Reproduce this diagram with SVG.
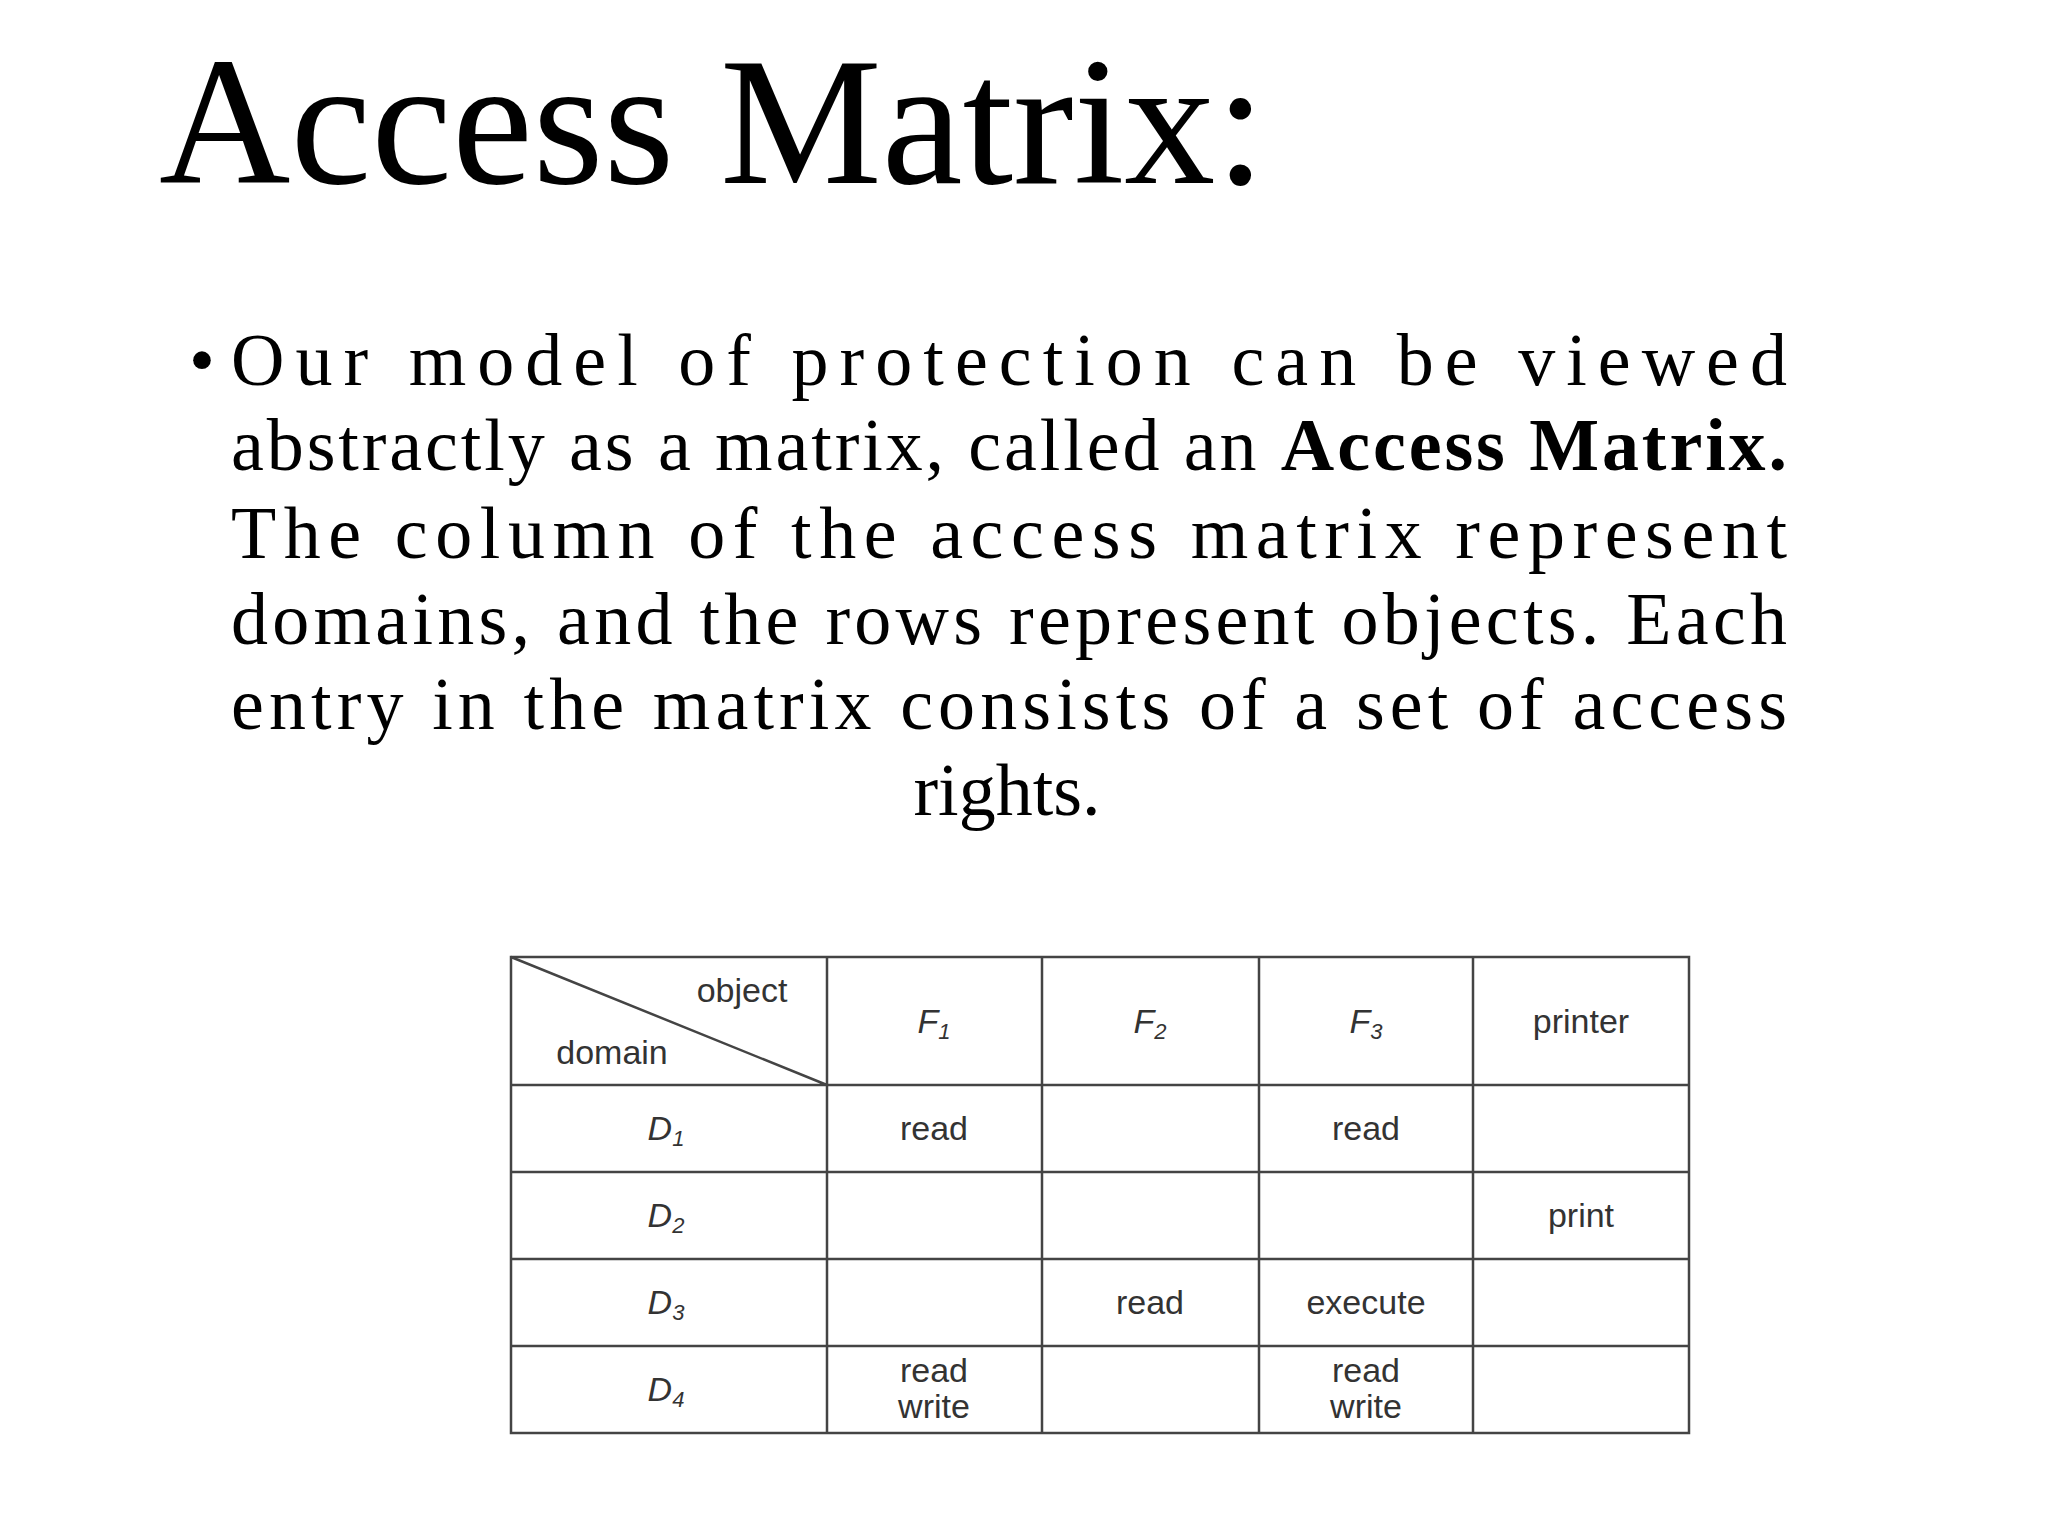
<svg xmlns="http://www.w3.org/2000/svg" width="2048" height="1536" viewBox="0 0 2048 1536">
<style>
.t{font-family:"Liberation Serif",serif;fill:#000}
.p{font-size:74px}
.c{font-family:"Liberation Sans",sans-serif;font-size:34px;fill:#333;text-anchor:middle}
.i{font-style:italic}
.s{font-size:22px}
.g{stroke:#444;stroke-width:2.5;fill:none}
</style>
<rect width="2048" height="1536" fill="#fff"/>
<text class="t" x="159" y="183" font-size="182">Access Matrix:</text>
<g id="paragraph" class="t p">
<text x="189" y="385">•</text>
<text x="231" y="385" textLength="1556" lengthAdjust="spacing">Our model of protection can be viewed</text>
<text x="231" y="470" textLength="1556" lengthAdjust="spacing">abstractly as a matrix, called an <tspan font-weight="bold">Access Matrix.</tspan></text>
<text x="231" y="558" textLength="1556" lengthAdjust="spacing">The column of the access matrix represent</text>
<text x="231" y="644" textLength="1556" lengthAdjust="spacing">domains, and the rows represent objects. Each</text>
<text x="231" y="729" textLength="1556" lengthAdjust="spacing">entry in the matrix consists of a set of access</text>
<text x="1007" y="815" text-anchor="middle">rights.</text>
</g>
<g id="table">
<rect class="g" x="511" y="957" width="1178" height="476"/>
<path class="g" d="M827 957V1433M1042 957V1433M1259 957V1433M1473 957V1433M511 1085H1689M511 1172H1689M511 1259H1689M511 1346H1689M511 957L827 1085"/>
<text class="c" x="742" y="1002">object</text>
<text class="c" x="612" y="1064">domain</text>
<text class="c i" x="934" y="1033">F<tspan class="s" dy="6">1</tspan></text>
<text class="c i" x="1150" y="1033">F<tspan class="s" dy="6">2</tspan></text>
<text class="c i" x="1366" y="1033">F<tspan class="s" dy="6">3</tspan></text>
<text class="c" x="1581" y="1033">printer</text>
<text class="c i" x="666" y="1140">D<tspan class="s" dy="6">1</tspan></text>
<text class="c i" x="666" y="1227">D<tspan class="s" dy="6">2</tspan></text>
<text class="c i" x="666" y="1314">D<tspan class="s" dy="6">3</tspan></text>
<text class="c i" x="666" y="1401">D<tspan class="s" dy="6">4</tspan></text>
<text class="c" x="934" y="1140">read</text>
<text class="c" x="1366" y="1140">read</text>
<text class="c" x="1581" y="1227">print</text>
<text class="c" x="1150" y="1314">read</text>
<text class="c" x="1366" y="1314">execute</text>
<text class="c" x="934" y="1382">read</text>
<text class="c" x="934" y="1418">write</text>
<text class="c" x="1366" y="1382">read</text>
<text class="c" x="1366" y="1418">write</text>
</g>
</svg>
